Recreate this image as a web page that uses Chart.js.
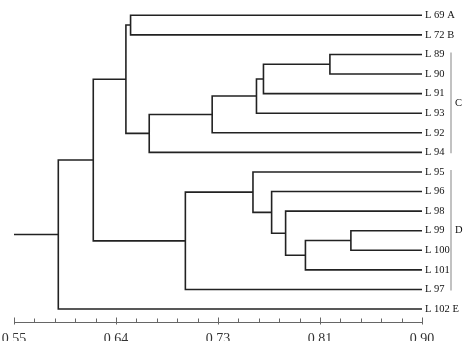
<!DOCTYPE html>
<html>
<head>
<meta charset="utf-8">
<script src="https://cdn.jsdelivr.net/npm/chart.js@4.4.1/dist/chart.umd.min.js"></script>
<style>
  html, body { margin: 0; padding: 0; background: #fff; }
  #wrap { width: 474px; height: 341px; }
</style>
</head>
<body>
<div id="wrap"><canvas id="dendro"></canvas></div>
<script>
// leaves, top to bottom
var leafNames = ['L 69 A', 'L 72 B', 'L 89', 'L 90', 'L 91', 'L 93', 'L 92', 'L 94',
                 'L 95', 'L 96', 'L 98', 'L 99', 'L 100', 'L 101', 'L 97', 'L 102 E'];

// merges: ids below 16 are leaves, 16 + k is the k-th merge
var mergePairs = [[2, 3], [16, 4], [17, 5], [18, 6], [19, 7], [0, 1], [21, 20],
                  [11, 12], [23, 13], [10, 24], [9, 25], [8, 26], [27, 14],
                  [22, 28], [29, 15]];
var mergeHeights = [0.821, 0.764, 0.758, 0.720, 0.666, 0.650, 0.646,
                    0.839, 0.800, 0.783, 0.771, 0.755, 0.697,
                    0.618, 0.588];

var leafLevel = 0.90;
var rootLevel = 0.55;

var xMajorTicks = [0.55, 0.6375, 0.725, 0.8125, 0.90];
var xTickLabels = ['0.55', '0.64', '0.73', '0.81', '0.90'];

var groupNames = ['C', 'D'];
var groupFrom = [2, 8];
var groupTo = [7, 14];

// elbow polylines for every merge, separated by null points
function buildSegments() {
    var nodeX = [], nodeY = [], pts = [];
    leafNames.forEach(function (n, i) {
        nodeX.push(leafLevel);
        nodeY.push(i);
    });
    mergePairs.forEach(function (pair, k) {
        var h = mergeHeights[k], a = pair[0], b = pair[1];
        pts.push({ x: nodeX[a], y: nodeY[a] }, { x: h, y: nodeY[a] },
                 { x: h, y: nodeY[b] }, { x: nodeX[b], y: nodeY[b] },
                 { x: h, y: null });
        nodeX.push(h);
        nodeY.push((nodeY[a] + nodeY[b]) / 2);
    });
    var root = nodeX.length - 1;
    pts.push({ x: nodeX[root], y: nodeY[root] }, { x: rootLevel, y: nodeY[root] });
    return pts;
}

// tick marks stand above the axis line
var axisMarks = {
    id: 'axisMarks',
    afterDraw: function (chart) {
        var xs = chart.scales.x, c = chart.ctx, y0 = xs.top + 0.5;
        c.save();
        c.strokeStyle = '#666';
        c.lineWidth = 1;
        c.beginPath();
        xMajorTicks.forEach(function (v, i) {
            var px = Math.round(xs.getPixelForValue(v)) + 0.5;
            c.moveTo(px, y0 - 5);
            c.lineTo(px, y0 + 2);
            if (i < xMajorTicks.length - 1) {
                var step = (xMajorTicks[i + 1] - v) / 5;
                for (var k = 1; k < 5; k++) {
                    var mx = Math.round(xs.getPixelForValue(v + step * k)) + 0.5;
                    c.moveTo(mx, y0 - 4);
                    c.lineTo(mx, y0);
                }
            }
        });
        c.stroke();
        c.restore();
    }
};

// bracket and letter for the C and D clusters
var groupBrackets = {
    id: 'groupBrackets',
    afterDraw: function (chart) {
        var ys = chart.scales.y, c = chart.ctx, right = chart.chartArea.right;
        c.save();
        c.strokeStyle = '#999';
        c.lineWidth = 1.2;
        c.fillStyle = '#111';
        c.font = '10.5px "Liberation Serif"';
        c.textBaseline = 'middle';
        groupNames.forEach(function (name, i) {
            var top = ys.getPixelForValue(groupFrom[i] - 0.1);
            var bottom = ys.getPixelForValue(groupTo[i] + 0.05);
            c.beginPath();
            c.moveTo(right + 29, top);
            c.lineTo(right + 29, bottom);
            c.stroke();
            c.fillText(name, right + 33, ys.getPixelForValue((groupFrom[i] + groupTo[i]) / 2));
        });
        c.restore();
    }
};

var ctx = document.getElementById('dendro').getContext('2d');

new Chart(ctx, {
    type: 'scatter',
    data: {
        datasets: [{
            data: buildSegments(),
            showLine: true,
            spanGaps: false,
            borderColor: '#222',
            borderWidth: 1.6,
            pointRadius: 0,
            tension: 0
        }]
    },
    options: {
        responsive: true,
        maintainAspectRatio: false,
        animation: false,
        layout: { padding: { left: 14, top: 0, right: 0, bottom: 0 } },
        plugins: {
            legend: { display: false },
            tooltip: { enabled: false }
        },
        scales: {
            x: {
                type: 'linear',
                position: 'bottom',
                min: 0.55,
                max: 0.90,
                afterBuildTicks: function (scale) {
                    scale.ticks = xMajorTicks.map(function (v) { return { value: v }; });
                },
                afterFit: function (scale) {
                    scale.height = 19;
                    scale.paddingLeft = 0;
                    scale.paddingRight = 0;
                },
                grid: { display: false, drawTicks: false },
                border: { display: true, color: '#666', width: 1 },
                ticks: {
                    autoSkip: false,
                    maxRotation: 0,
                    padding: 9,
                    color: '#333',
                    font: { family: 'Liberation Serif', size: 14 },
                    callback: function (value, index) { return xTickLabels[index]; }
                }
            },
            y: {
                type: 'linear',
                position: 'right',
                reverse: true,
                min: -0.78,
                max: 15.66,
                afterBuildTicks: function (scale) {
                    scale.ticks = leafNames.map(function (n, i) { return { value: i }; });
                },
                afterFit: function (scale) {
                    scale.width = 52;
                    scale.paddingTop = 0;
                    scale.paddingBottom = 0;
                },
                grid: { display: false, drawTicks: false },
                border: { display: false },
                ticks: {
                    autoSkip: false,
                    padding: 3,
                    color: '#111',
                    font: { family: 'Liberation Serif', size: 10.5 },
                    callback: function (value, index) { return leafNames[index]; }
                }
            }
        }
    },
    plugins: [axisMarks, groupBrackets]
});
</script>
</body>
</html>
